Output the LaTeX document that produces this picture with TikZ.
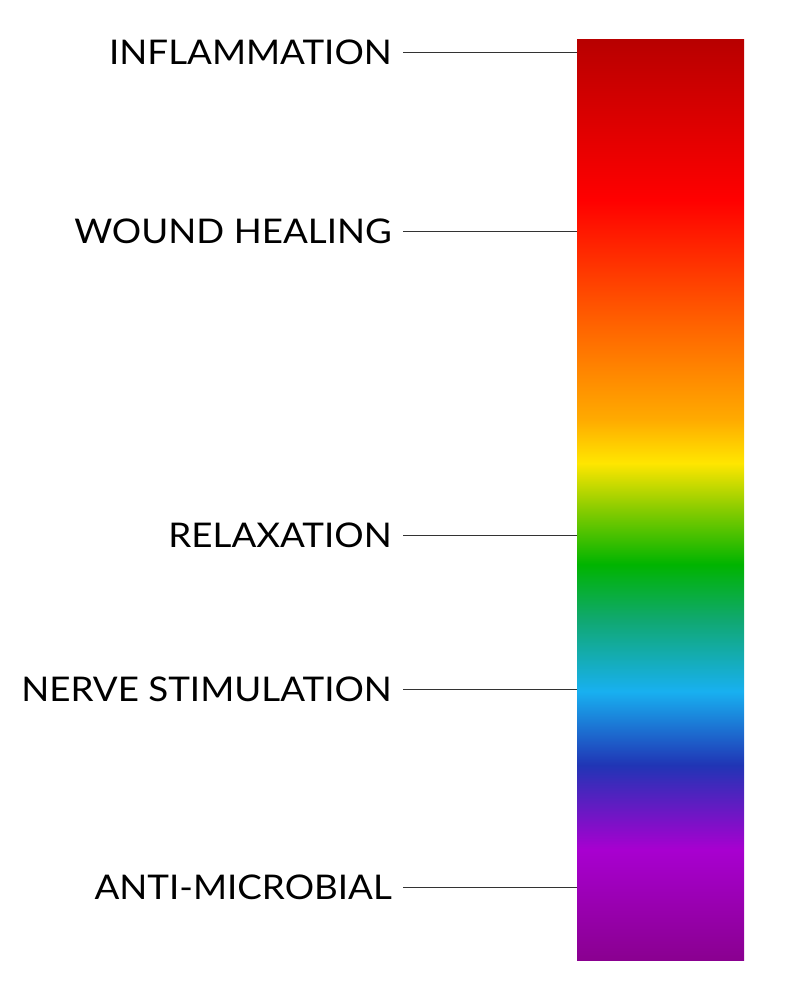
\documentclass[tikz,border=0pt]{standalone}
\usepackage{fontspec}
\setmainfont{Lato}[FakeStretch=1.08]
\definecolor{c1}{HTML}{B80000}
\definecolor{c2}{HTML}{FF0000}
\definecolor{c3}{HTML}{FF6600}
\definecolor{c4}{HTML}{FFAA00}
\definecolor{c5}{HTML}{FFE600}
\definecolor{c6}{HTML}{88CC00}
\definecolor{c7}{HTML}{00B400}
\definecolor{c8}{HTML}{10A870}
\definecolor{c9}{HTML}{18B0F0}
\definecolor{c10}{HTML}{2035B5}
\definecolor{c11}{HTML}{A800D0}
\definecolor{c12}{HTML}{8A0090}
\pgfdeclareverticalshading{rainbow}{100bp}{
color(0bp)=(c12); color(25bp)=(c12);
color(31bp)=(c11); color(35.6bp)=(c10); color(39.6bp)=(c9); color(43.5bp)=(c8);
color(46.5bp)=(c7); color(49.5bp)=(c6); color(52bp)=(c5); color(54.4bp)=(c4);
color(59.3bp)=(c3); color(66.3bp)=(c2); color(75bp)=(c1); color(100bp)=(c1)}
\begin{document}
\begin{tikzpicture}[x=1pt,y=-1pt,
  lab/.style={anchor=east,font=\fontsize{34}{34}\selectfont,inner sep=0pt},
  ln/.style={draw=black!80,line width=0.9pt}]
\useasboundingbox (0,0) rectangle (793,1000);
\shade[shading=rainbow] (577,40) rectangle (744,960);
\foreach \n/\y/\t in {a/52/INFLAMMATION,b/231/WOUND HEALING,c/535/RELAXATION,d/689/NERVE STIMULATION,e/887/ANTI-MICROBIAL}{
  \node[lab] (t\n) at (392,\y) {\t};
  \coordinate (s\n) at (403,\y);
  \coordinate (e\n) at (577,\y);
  \draw[ln] (s\n) -- (e\n);
}
\end{tikzpicture}
\end{document}
